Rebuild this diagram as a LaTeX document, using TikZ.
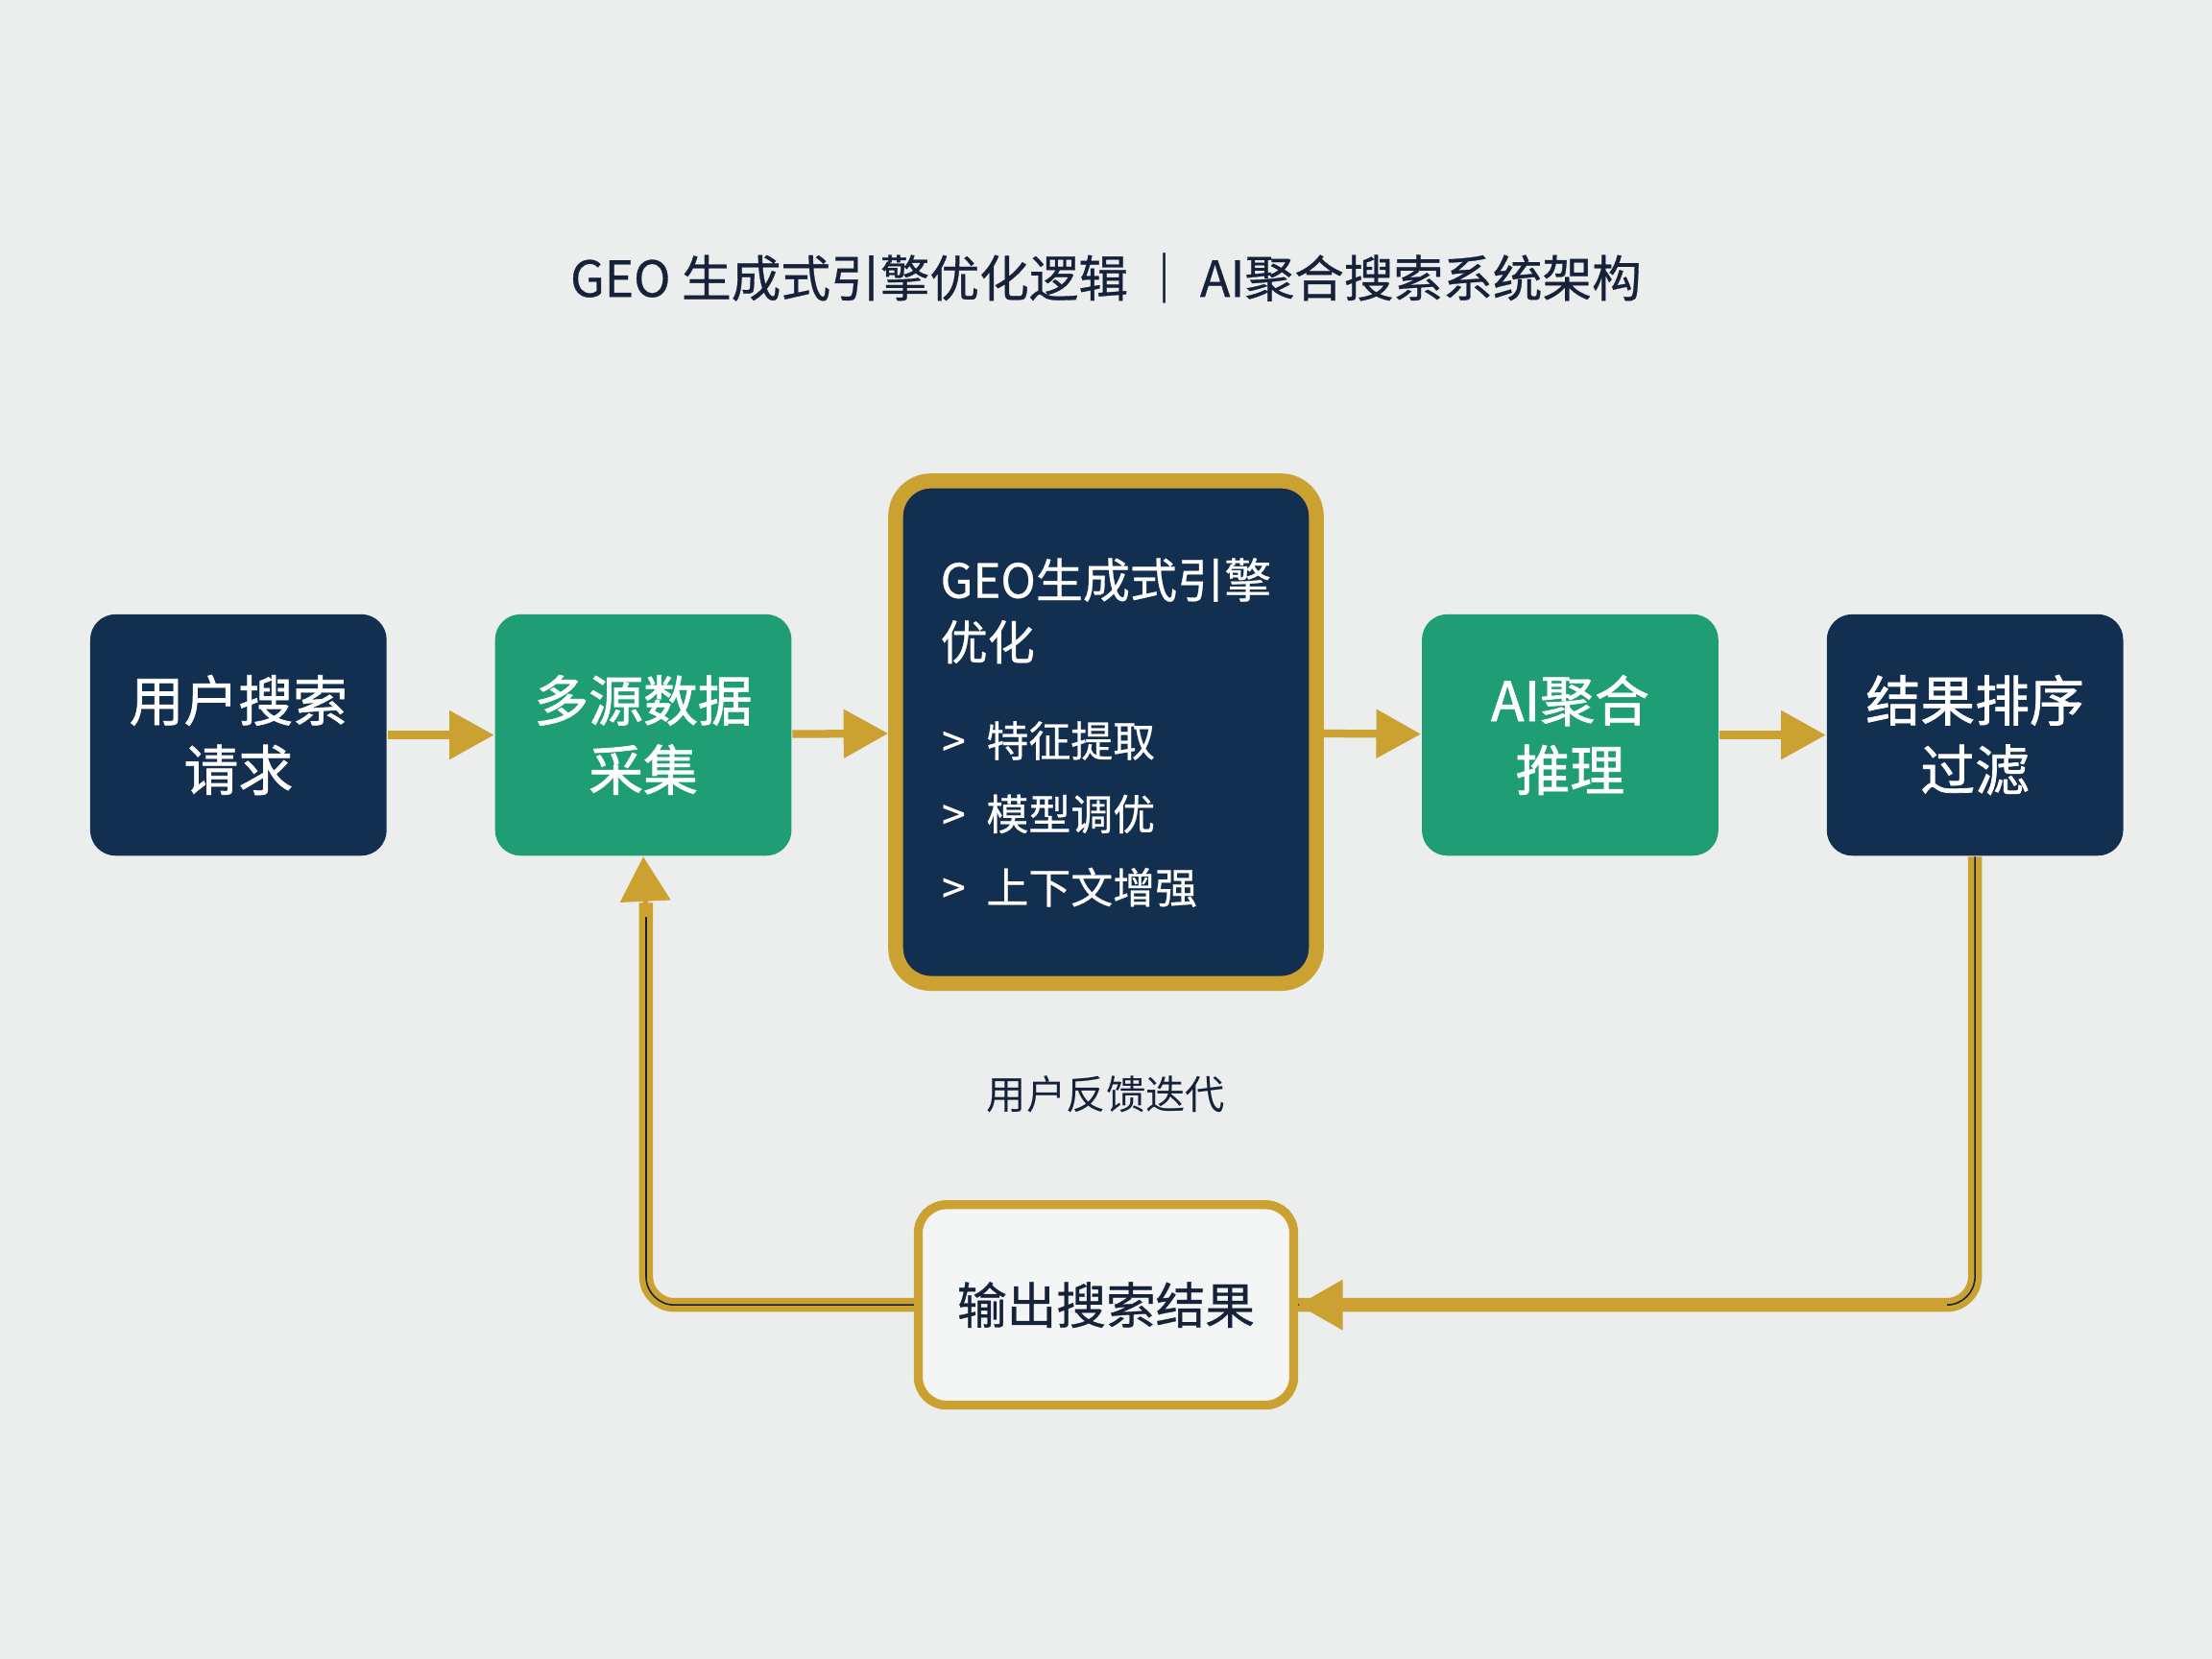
\documentclass[tikz,border=0pt]{standalone}
\usepackage{fontspec}
\setmainfont{Noto Sans CJK SC}
\newfontfamily\med[FakeBold=1.2]{Noto Sans CJK SC}
\newfontfamily\semi[FakeBold=0.6]{Noto Sans CJK SC}
\usetikzlibrary{arrows.meta}
\definecolor{bg}{HTML}{ECEEEE}
\definecolor{navy}{HTML}{132F4F}
\definecolor{green}{HTML}{1F9E75}
\definecolor{gold}{HTML}{CBA232}
\definecolor{ink}{HTML}{16213A}
\begin{document}
\begin{tikzpicture}[x=0.01cm,y=-0.01cm,
  box/.style={rounded corners=0.18cm,minimum width=2.1cm,minimum height=1.71cm,text=white,align=center,font=\fontsize{11}{14}\med,inner sep=0pt},
  nbox/.style={box,fill=navy},
  gbox/.style={box,fill=green},
  flow/.style={draw=gold,line width=1.6pt,-{Triangle[length=9pt,width=9.5pt]}},
  fb/.style={draw=gold,line width=2.8pt,rounded corners=0.2cm,
     postaction={draw=ink,line width=0.3pt,-}},
  item/.style={anchor=west,text=white,font=\fontsize{8.5}{10}\semi,inner sep=0pt}]
\fill[bg] (0,0) rectangle (1568,1176);
\useasboundingbox (0,0) rectangle (1568,1176);
\node[font=\fontsize{10}{12}\semi,text=ink] (title) at (784,197) {GEO 生成式引擎优化逻辑 ｜ AI聚合搜索系统架构};
\node[nbox] (a) at (169,521) {用户搜索\\请求};
\node[gbox] (b) at (456,521) {多源数据\\采集};
\node[draw=gold,line width=3pt,fill=navy,rounded corners=0.25cm,minimum width=2.98cm,minimum height=3.56cm] (c) at (784,519) {};
\node[gbox] (d) at (1113,521) {AI聚合\\推理};
\node[nbox] (e) at (1400,521) {结果排序\\过滤};
\node[item,font=\fontsize{9.5}{12.5}\semi,align=left] (ct) at (666,433) {GEO生成式引擎\\优化};
\node[item] (i1) at (667,525) {>\hspace{0.5em}特征提取};
\node[item] (i2) at (667,577) {>\hspace{0.5em}模型调优};
\node[item] (i3) at (667,629) {>\hspace{0.5em}上下文增强};
\node[draw=gold,line width=1.8pt,fill=bg!60!white,rounded corners=0.2cm,minimum width=2.66cm,minimum height=1.42cm,font=\fontsize{10}{12}\semi,text=ink] (f) at (784,925) {输出搜索结果};
\node[font=\fontsize{8}{10}\selectfont,text=ink] (lbl) at (784,776) {用户反馈迭代};
\draw[flow] (a) -- (b);
\draw[flow] (b) -- (c);
\draw[flow] (c) -- (d);
\draw[flow] (d) -- (e);
\coordinate (e1) at (1400,925);
\coordinate (b1) at (458,925);
\draw[fb] (e.south) -- (e1) -- (f.east);
\draw[draw=gold,line width=1pt,-{Triangle[length=9pt,width=10pt]}] (1380,925) -- (f.east);
\draw[fb] (f.west) -- (b1) -- (458,640);
\draw[draw=gold,line width=1pt,-{Triangle[length=9pt,width=10pt]}] (458,650) -- (b.south);
\end{tikzpicture}
\end{document}
